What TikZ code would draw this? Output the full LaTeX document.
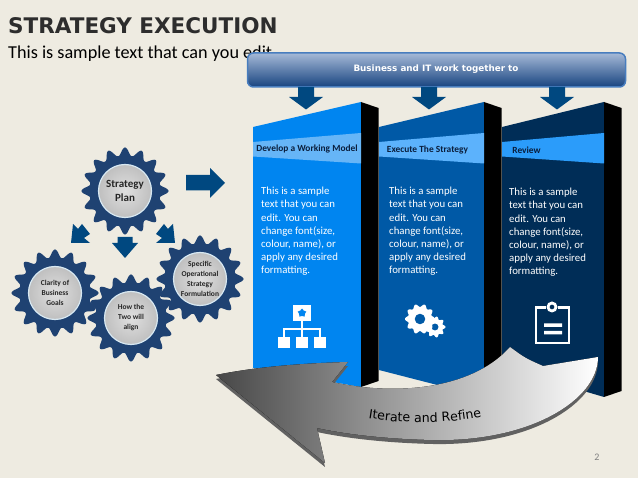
\documentclass[tikz,border=0pt]{standalone}
\usepackage{fontspec}
\usepackage{xcolor}
\usepackage{tikz}
\usetikzlibrary{shapes.geometric,decorations.text}
\setmainfont{Carlito}
\newfontfamily\dejavu{DejaVu Sans}
\definecolor{paperbg}{RGB}{238,235,225}
\definecolor{titlegray}{RGB}{45,45,45}
\definecolor{gearblue}{RGB}{31,66,114}
\definecolor{arrowblue}{RGB}{0,72,128}
\definecolor{labelnavy}{RGB}{10,30,60}
\definecolor{colone}{RGB}{0,133,240}
\definecolor{coltwo}{RGB}{0,89,166}
\definecolor{colthree}{RGB}{0,45,87}
\definecolor{lightone}{RGB}{102,181,247}
\definecolor{lighttwo}{RGB}{92,178,252}
\definecolor{lightthree}{RGB}{43,156,250}
\definecolor{bandedge}{RGB}{72,125,190}
\definecolor{bandtop}{RGB}{165,185,215}
\definecolor{bandmid}{RGB}{72,108,158}
\definecolor{bandbottom}{RGB}{24,68,128}
\definecolor{hubring}{RGB}{215,232,242}
\tikzset{
  gearhub/.style={circle,minimum size=53pt,inner sep=0pt,align=center,draw=hubring,line width=1.2pt,
    inner color=gray!25,outer color=gray!50,text=black!85,font=\bfseries\fontsize{7.5}{10}\selectfont},
  bodytext/.style={anchor=north west,inner sep=0pt,align=left,text=white,font=\fontsize{10.8}{13.2}\selectfont},
  headlabel/.style={inner sep=0pt,text=labelnavy,font=\bfseries\fontsize{9.4}{12}\selectfont}
}
\newcommand{\refinepath}{(216,375) .. controls (260,366) and (310,363) .. (348,362) -- (332,382)
  .. controls (390,395) and (470,392) .. (510,347) .. controls (525,358) .. (543,366) -- (598,357)
  .. controls (598,400) and (530,442) .. (433,440) .. controls (390,439) and (350,435) .. (317,428)
  -- (325,463) -- cycle}
\begin{document}
\begin{tikzpicture}[x=1pt,y=-1pt]
    \useasboundingbox (0,0) rectangle (638,478);
    \fill[paperbg] (0,0) rectangle (638,478);
    % Heading
    \node[anchor=west,inner sep=0pt,text=titlegray,font=\dejavu\bfseries\fontsize{21.5}{24}\selectfont] (title) at (8,26) {STRATEGY EXECUTION};
    \node[anchor=west,inner sep=0pt,text=black,font=\fontsize{18.2}{22}\selectfont] (subtitle) at (8,54) {This is sample text that can you edit};
    % Columns
    \foreach \xl/\xr/\yl/\yr/\colfill/\colband in {253/361/368/387/colone/lightone,379/484/370/397/coltwo/lighttwo,502/604/367/397/colthree/lightthree}{
        \fill[\colfill] (\xl,127) -- (\xr,102) -- (\xr,\yr) -- (\xl,\yl) -- cycle;
        \fill[black] (\xr,102) -- (\xr+17.5,108) -- (\xr+17.5,\yr-6) -- (\xr,\yr) -- cycle;
        \fill[\colband] (\xl,142) -- (\xr,133) -- (\xr,163.5) -- (\xl,156.5) -- cycle;
    }
    % Column labels
    \node[headlabel] (develop) at (307,149.5) {Develop a Working Model};
    \node[headlabel] (execute) at (427.5,150) {Execute The Strategy};
    \node[headlabel] (review) at (526.5,150) {Review};
    \node[bodytext] (developtext) at (261,187) {This is a sample\\text that you can\\edit. You can\\change font(size,\\colour, name), or\\apply any desired\\formatting.};
    \node[bodytext] (executetext) at (389,187) {This is a sample\\text that you can\\edit. You can\\change font(size,\\colour, name), or\\apply any desired\\formatting.};
    \node[bodytext] (reviewtext) at (509,188) {This is a sample\\text that you can\\edit. You can\\change font(size,\\colour, name), or\\apply any desired\\formatting.};
    % Top band
    \draw[line width=1.5pt,draw=bandedge,rounded corners=6pt,top color=bandtop,middle color=bandmid,bottom color=bandbottom] (247.5,53) rectangle (625.5,87);
    \node[inner sep=0pt,text=white,font=\dejavu\bfseries\fontsize{8.8}{10}\selectfont] (together) at (436,69.5) {Business and IT work together to};
    % Arrows from the band
    \foreach \ax in {306,429,557}{
        \fill[arrowblue] (\ax-8,87) -- (\ax+8,87) -- (\ax+8,97) -- (\ax+17,97) -- (\ax,109.5) -- (\ax-17,97) -- (\ax-8,97) -- cycle;
    }
    % Gears
    \foreach \gx/\gy in {125/191,200/279,55/293,131/318}{
        \fill[gearblue,domain=0:360,samples=361,smooth] plot ({\gx+(35.5+8*pow(0.501+0.499*cos(16*\x),1.2))*cos(\x+90)},{\gy+(35.5+8*pow(0.501+0.499*cos(16*\x),1.2))*sin(\x+90)}) -- cycle;
    }
    \node[gearhub,font=\bfseries\fontsize{11}{14}\selectfont] (plan) at (125,191) {Strategy\\Plan};
    \node[gearhub] (specific) at (200,279) {Specific\\Operational\\Strategy\\Formulation};
    \node[gearhub] (clarity) at (55,293) {Clarity of\\Business\\Goals};
    \node[gearhub] (align) at (131,318) {How the\\Two will\\align};
    % Arrows between gears
    \fill[arrowblue] (186,175) -- (210,175) -- (210,168) -- (225,183) -- (210,198) -- (210,190.5) -- (186,190.5) -- cycle;
    \fill[arrowblue] (117.5,237) -- (132.5,237) -- (132.5,243) -- (138,243) -- (125,258) -- (112,243) -- (117.5,243) -- cycle;
    \fill[arrowblue] (71,243) -- (73,224) -- (78,229) -- (82,224) -- (90,234) -- (84,238) -- (90,243) -- cycle;
    \fill[arrowblue] (175,243) -- (173,224) -- (168,229) -- (164,224) -- (156,234) -- (162,238) -- (156,243) -- cycle;
    % Icons
    \fill[white] (293,305) rectangle (311,321);
    \node[star,star points=5,fill=colone,inner sep=0pt,minimum size=9pt] (orgstar) at (302,313) {};
    \draw[white,line width=1.5pt] (302,321) -- (302,329) (284,337) -- (284,329) -- (320,329) -- (320,337) (302,329) -- (302,337);
    \foreach \bx in {278,296,314}{
        \fill[white] (\bx,337) rectangle (\bx+12,348);
    }
    \foreach \cx/\cy/\inr/\rr/\nt in {420/319/12/3/10,435/327/8/2.5/9}{
        \fill[white,even odd rule,domain=0:360,samples=181,smooth] plot ({\cx+(\inr+\rr*pow(0.5+0.5*cos(\nt*\x),1))*cos(\x)},{\cy+(\inr+\rr*pow(0.5+0.5*cos(\nt*\x),1))*sin(\x)}) -- cycle (\cx,\cy) circle (\inr*0.45);
    }
    \draw[white,line width=2.5pt] (546,307.5) -- (536,307.5) -- (536,343) -- (569,343) -- (569,307.5) -- (558,307.5);
    \fill[white,even odd rule] (552,307) circle (5.5) (552,307) circle (2.5);
    \fill[white] (544,323.5) rectangle (562,327) (544,331) rectangle (562,334.5);
    % Big return arrow
    \fill[black!62,shift={(0,4)}] \refinepath;
    \fill[left color=black!72,right color=white] \refinepath;
    \path[decorate,decoration={text along path,text align=center,text={|\dejavu\fontsize{12.6}{14}\selectfont|Iterate and Refine}}] (366,418) .. controls (400,424) and (450,424) .. (484,416);
    % Page number
    \node[inner sep=0pt,text=gray,font=\fontsize{10}{12}\selectfont] (pagenumber) at (597,457) {2};
\end{tikzpicture}
\end{document}
